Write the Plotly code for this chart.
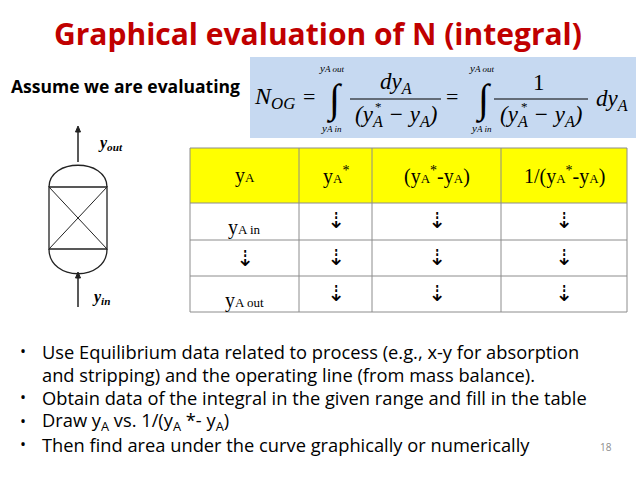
import plotly.graph_objects as go

W, H = 638, 478

title = "Graphical evaluation of N (integral)"
lead = "Assume we are evaluating"

# table contents
col_heads = [
    "y<span style='font-size:13px'>A</span>",
    "y<span style='font-size:13px'>A</span><sup>*</sup>",
    "(y<span style='font-size:13px'>A</span><sup>*</sup>-y<span style='font-size:13px'>A</span>)",
    "1/(y<span style='font-size:13px'>A</span><sup>*</sup>-y<span style='font-size:13px'>A</span>)",
]
row_heads = [
    "y<span style='font-size:13px'>A in</span>",
    "⇣",
    "y<span style='font-size:13px'>A out</span>",
]
cell_mark = "⇣"

bullets = [
    "Use Equilibrium data related to process (e.g., x-y for absorption",
    "Obtain data of the integral in the given range and fill in the table",
    "Draw y<sub>A</sub> vs. 1/(y<sub>A</sub> *- y<sub>A</sub>)",
    "Then find area under the curve graphically or numerically",
]
bullet_cont = "and stripping) and the operating line (from mass balance)."
page_no = "18"

# layout geometry (pixels)
col_x = [190, 299, 372, 501, 627]
row_y = [148, 203, 240, 276, 312]

SANS = "Open Sans"
SERIF = "Liberation Serif"

fig = go.Figure()
shapes = []
ann = []


def txt(x, y, s, size, color="black", family=SERIF, xa="center", ya="middle", bold=False):
    if bold:
        s = "<b>" + s + "</b>"
    ann.append(dict(x=x, y=y, text=s, showarrow=False, xanchor=xa, yanchor=ya,
                    font=dict(size=size, color=color, family=family)))


# title and lead text
txt(318, 33, title, 30, color="#C00000", family=SANS, bold=True)
txt(9, 86, lead, 17.5, family=SANS, xa="left", bold=True)

# formula box
shapes.append(dict(type="rect", x0=250, x1=636, y0=57, y1=138,
                   fillcolor="#C6D9F1", line=dict(width=0), layer="below"))
txt(252, 98, "<i>N</i><sub><i>OG</i></sub>", 24, xa="left")
txt(301, 96, "=", 22, xa="left")
for ix, lim_x in [(334, 331), (483, 481)]:
    txt(ix, 99, "∫", 40)
    txt(lim_x, 68, "<i>y<span style='font-size:9px'>A out</span></i>", 11)
    txt(lim_x, 128, "<i>y<span style='font-size:9px'>A in</span></i>", 11)
txt(396, 83, "<i>dy<sub>A</sub></i>", 23)
txt(539, 82, "1", 23)
txt(452, 96, "=", 22)
for fx0, fx1 in [(350, 441), (494, 588)]:
    shapes.append(dict(type="line", x0=fx0, x1=fx1, y0=99, y1=99,
                       line=dict(color="black", width=1.2)))
    cx = (fx0 + fx1) / 2
    txt(cx, 116, "<i>(y<sub>A</sub> − y<sub>A</sub>)</i>", 23)
    txt(cx - 17, 106, "*", 13)
txt(594, 100, "<i>dy<sub>A</sub></i>", 23, xa="left")

# column sketch
LC = "#222222"
shapes += [
    dict(type="line", x0=78, x1=78, y0=131, y1=162, line=dict(color=LC, width=1.5)),
    dict(type="line", x0=78, x1=78, y0=277, y1=307, line=dict(color=LC, width=1.5)),
    dict(type="path", path="M 49 187 C 49 158 107 158 107 187",
         line=dict(color=LC, width=1.3)),
    dict(type="path", path="M 49 249 C 49 282 107 282 107 249",
         line=dict(color=LC, width=1.3)),
    dict(type="rect", x0=49, x1=107, y0=187, y1=249, line=dict(color=LC, width=1.3)),
    dict(type="line", x0=49, x1=107, y0=187, y1=249, line=dict(color=LC, width=1)),
    dict(type="line", x0=49, x1=107, y0=249, y1=187, line=dict(color=LC, width=1)),
]
for tip in [126, 272]:
    shapes.append(dict(type="path",
                       path=f"M 75.5 {tip + 6} L 78 {tip} L 80.5 {tip + 6} Z",
                       fillcolor=LC, line=dict(color=LC, width=1)))
txt(96, 143, "<b><i>y<sub>out</sub></i></b>", 16, xa="left")
txt(90, 297, "<b><i>y<sub>in</sub></i></b>", 16, xa="left")

# table
GRID = "#8c8c8c"
shapes.append(dict(type="rect", x0=col_x[0], x1=col_x[-1], y0=row_y[0], y1=row_y[1],
                   fillcolor="#FFFF00", line=dict(width=0), layer="below"))
for yy in row_y:
    shapes.append(dict(type="line", x0=col_x[0], x1=col_x[-1], y0=yy, y1=yy,
                       line=dict(color=GRID, width=1)))
for xx in col_x:
    shapes.append(dict(type="line", x0=xx, x1=xx, y0=row_y[0], y1=row_y[-1],
                       line=dict(color=GRID, width=1)))
hy = (row_y[0] + row_y[1]) / 2
for i, h in enumerate(col_heads):
    txt((col_x[i] + col_x[i + 1]) / 2, hy, h, 20)
for r, rh in enumerate(row_heads):
    cy = (row_y[r + 1] + row_y[r + 2]) / 2
    if rh == "⇣":
        txt((col_x[0] + col_x[1]) / 2, cy, rh, 22, family="DejaVu Sans")
    else:
        txt((col_x[0] + col_x[1]) / 2, cy + 6, rh, 20)
    for c in range(1, 4):
        txt((col_x[c] + col_x[c + 1]) / 2, cy - 1, cell_mark, 22, family="DejaVu Sans")

# bullets
line_y = [351, 397, 421, 444]
for yy, b in zip(line_y, bullets):
    txt(23, yy, "•", 16, family=SANS)
    txt(40, yy, b, 18.3, family=SANS, xa="left")
txt(40, 374, bullet_cont, 18.3, family=SANS, xa="left")
txt(598, 447, page_no, 10, color="#8c8c8c", family=SANS, xa="left")

fig.update_layout(
    width=W, height=H, margin=dict(l=0, r=0, t=0, b=0),
    paper_bgcolor="white", plot_bgcolor="white",
    xaxis=dict(range=[0, W], visible=False, fixedrange=True),
    yaxis=dict(range=[H, 0], visible=False, fixedrange=True),
    shapes=shapes, annotations=ann, showlegend=False,
)
fig.write_html("out.html", config={"displayModeBar": False},
               post_script="document.body.style.margin='0px';")
